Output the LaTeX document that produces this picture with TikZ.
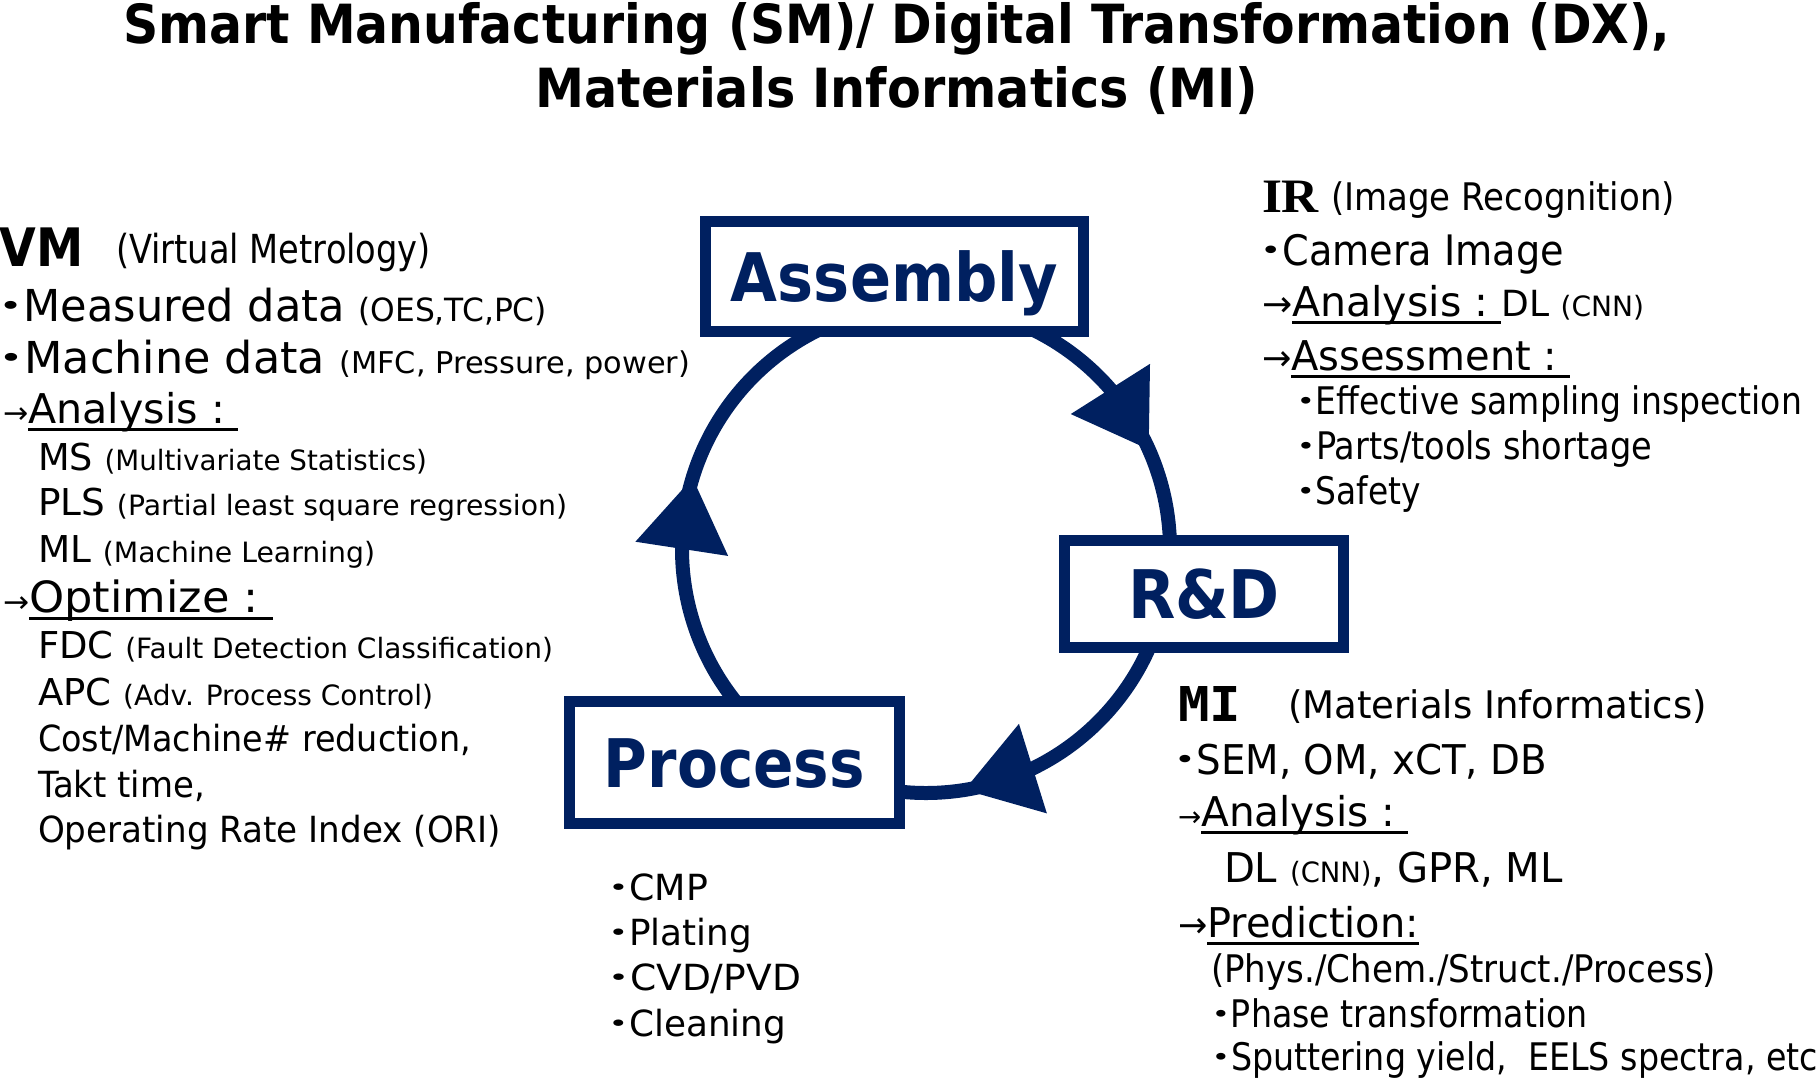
\documentclass[tikz,border=0pt]{standalone}
\usepackage{fontspec}
\setmainfont{DejaVu Sans}
\newfontfamily\irfont{Liberation Serif}
\newfontfamily\mifont{DejaVu Sans Mono}
\usetikzlibrary{arrows.meta,bending,backgrounds}
\definecolor{navy}{RGB}{0,32,96}
\newcommand\sz[1]{\fontsize{#1}{#1}\selectfont}
\newsavebox\ulbox
\newcommand\ul[1]{\sbox\ulbox{#1}\rlap{\raisebox{-7.5pt}{\rule{\wd\ulbox}{2.5pt}}}\usebox\ulbox}
\newcommand\fit[2]{\resizebox{#1pt}{\height}{#2}}
\newcommand\bul{\kern-0.1em\raisebox{0.13em}{\scalebox{0.95}[0.62]{•}}\kern0.02em}
\tikzset{
  txt/.style={anchor=base west, inner sep=0pt, outer sep=0pt},
  ttl/.style={anchor=base, inner sep=0pt, outer sep=0pt},
  stagebox/.style={draw=navy, line width=11pt, fill=white, inner sep=0pt, text=navy,
    font=\bfseries, text height=49pt, text depth=0pt},
  cyc/.style={draw=navy, line width=14pt},
  tipa/.style={-{Triangle[length=72pt,width=90pt,flex]}, navy},
}
\begin{document}
\begin{tikzpicture}[x=1pt,y=-1pt]
\useasboundingbox (0,0) rectangle (1820,1082);

% title
\node[ttl] (t1) at (897,43) {\fit{1547}{\sz{54}\bfseries Smart Manufacturing (SM)/ Digital Transformation (DX),}};
\node[ttl] (t2) at (897,107) {\fit{723}{\sz{54}\bfseries Materials Informatics (MI)}};

% stage boxes
\node[stagebox, minimum width=378pt, minimum height=110pt] (asm) at (894.5,276.5) {\fit{327}{\sz{67}Assembly}};
\node[stagebox, minimum width=279pt, minimum height=107pt] (rd) at (1204,594) {\fit{152}{\sz{67}R\&D}};
\node[stagebox, minimum width=330pt, minimum height=122pt] (proc) at (734.5,762.5) {\fit{261}{\sz{67}Process}};

% cycle
\begin{scope}[on background layer]
\coordinate (c) at (926,549);
\draw[cyc, tipa] (c) ++(-75:244) arc[start angle=-75, end angle=-24, radius=244];
\draw[cyc] (c) ++(-30:244) arc[start angle=-30, end angle=10, radius=244];
\draw[cyc, tipa] (c) ++(15:244) arc[start angle=15, end angle=81, radius=244];
\draw[cyc] (c) ++(75:244) arc[start angle=75, end angle=100, radius=244];
\draw[cyc, tipa] (c) ++(130:244) arc[start angle=130, end angle=197, radius=244];
\draw[cyc] (c) ++(191:244) arc[start angle=191, end angle=255, radius=244];
\end{scope}

% VM block
\node[txt] (vm) at (0,266) {\fit{84}{\sz{53}\bfseries VM}};
\node[txt] (vmt) at (116,263) {\fit{315}{\sz{40}(Virtual Metrology)}};
\node[txt] (l1) at (3,321) {\fit{544}{\sz{44}\bul Measured data {\sz{32}(OES,TC,PC)}}};
\node[txt] (l2) at (3,373) {\fit{687}{\sz{44}\bul Machine data {\sz{30}(MFC, Pressure, power)}}};
\node[txt] (l3) at (3,423) {\fit{235}{{\sz{30}→}\ul{\sz{41}Analysis :\ }}};
\node[txt] (l4) at (38,470) {\fit{389}{\sz{37}MS {\sz{28}(Multivariate Statistics)}}};
\node[txt] (l5) at (38,515) {\fit{529}{\sz{37}PLS {\sz{28}(Partial least square regression)}}};
\node[txt] (l6) at (38,562) {\fit{337}{\sz{37}ML {\sz{28}(Machine Learning)}}};
\node[txt] (l7) at (3,612) {\fit{270}{{\sz{30}→}\ul{\sz{43}Optimize :\ }}};
\node[txt] (l8) at (38,658) {\fit{515}{\sz{37}FDC {\sz{28}(Fault Detection Classification)}}};
\node[txt] (l9) at (38,705) {\fit{395}{\sz{37}APC {\sz{28}(Adv. Process Control)}}};
\node[txt] (l10) at (38,751) {\fit{433}{\sz{36}Cost/Machine\# reduction,}};
\node[txt] (l11) at (38,797) {\fit{167}{\sz{36}Takt time,}};
\node[txt] (l12) at (38,842) {\fit{463}{\sz{36}Operating Rate Index (ORI)}};

% IR block
\node[txt] (ir) at (1262,212) {\fit{57}{\irfont\bfseries\sz{48}IR}};
\node[txt] (irt) at (1331,210) {\fit{344}{\sz{38}(Image Recognition)}};
\node[txt] (r1) at (1264,265) {\fit{300}{\sz{42}\bul Camera Image}};
\node[txt] (r2) at (1262,316) {\fit{382}{{\sz{36}→}\ul{\sz{41}Analysis :\ }{\sz{36}DL }{\sz{28}(CNN)}}};
\node[txt] (r3) at (1262,370) {\fit{308}{{\sz{36}→}\ul{\sz{41}Assessment :\ }}};
\node[txt] (r4) at (1300,414) {\fit{502}{\sz{38}\bul Effective sampling inspection}};
\node[txt] (r5) at (1300,459) {\fit{352}{\sz{38}\bul Parts/tools shortage}};
\node[txt] (r6) at (1300,504) {\fit{121}{\sz{38}\bul Safety}};

% MI block
\node[txt] (mi) at (1178,721) {\fit{63}{\mifont\bfseries\sz{48}MI}};
\node[txt] (mit) at (1288,718) {\fit{419}{\sz{38}(Materials Informatics)}};
\node[txt] (m1) at (1178,774) {\fit{369}{\sz{41}\bul SEM, OM, xCT, DB}};
\node[txt] (m2) at (1178,826) {\fit{230}{{\sz{28}→}\ul{\sz{41}Analysis :\ }}};
\node[txt] (m3) at (1224,882) {\fit{339}{\sz{41}DL {\sz{28}(CNN)}, GPR, ML}};
\node[txt] (m4) at (1178,937) {\fit{241}{{\sz{36}→}\ul{\sz{41}Prediction:}}};
\node[txt] (m5) at (1211,982) {\fit{505}{\sz{38}(Phys./Chem./Struct./Process)}};
\node[txt] (m6) at (1215,1027) {\fit{373}{\sz{38}\bul Phase transformation}};
\node[txt] (m7) at (1215,1070) {\fit{603}{\sz{38}\bul Sputtering yield,\ \ EELS spectra, etc}};

% Process list
\node[txt] (p1) at (612,900) {\fit{96}{\sz{36}\bul CMP}};
\node[txt] (p2) at (612,945) {\fit{140}{\sz{36}\bul Plating}};
\node[txt] (p3) at (612,990) {\fit{189}{\sz{36}\bul CVD/PVD}};
\node[txt] (p4) at (612,1036) {\fit{174}{\sz{36}\bul Cleaning}};
\end{tikzpicture}
\end{document}
